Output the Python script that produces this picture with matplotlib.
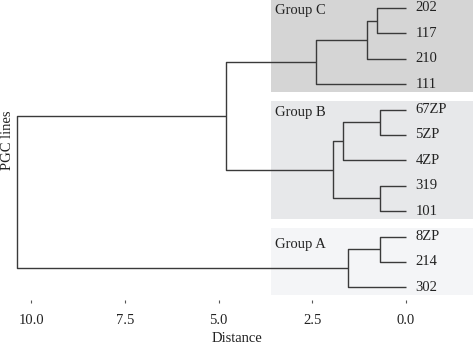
import matplotlib.pyplot as plt
from matplotlib.patches import Rectangle

plt.rcParams['font.family'] = 'serif'
plt.rcParams['font.serif'] = ['Liberation Serif', 'Times New Roman', 'DejaVu Serif']

# leaf order top to bottom
leaves = ['202', '117', '210', '111', '67ZP', '5ZP', '4ZP', '319', '101', '8ZP', '214', '302']

# merges: (left node, right node, distance); new nodes numbered from len(leaves)
merges = [
    (0, 1, 0.77),     # 12: 202 + 117
    (12, 2, 1.05),    # 13: + 210
    (13, 3, 2.40),    # 14: + 111  (group C)
    (4, 5, 0.69),     # 15: 67ZP + 5ZP
    (15, 6, 1.68),    # 16: + 4ZP
    (7, 8, 0.69),     # 17: 319 + 101
    (16, 17, 1.95),   # 18: group B
    (14, 18, 4.80),   # 19: C + B
    (9, 10, 0.69),    # 20: 8ZP + 214
    (20, 11, 1.55),   # 21: + 302  (group A)
    (19, 21, 10.37),  # 22: root
]

groups = ['Group C', 'Group B', 'Group A']
group_spans = [(0, 3), (4, 8), (9, 11)]
group_label_y = [0.08, 4.12, 9.3]
group_colors = ['#d5d5d5', '#e7e8ea', '#f4f5f7']

fig = plt.figure(figsize=(4.74, 3.48), dpi=100)
ax = fig.add_axes([0, (348 - 300) / 348, 1, 300 / 348])
ax.set_xlim(10.83, -1.81)
ax.set_ylim(11.5, -0.315)

line_kw = dict(color='#3a3a3a', lw=1.0, solid_capstyle='butt')
fs = 10.5

# group background boxes
for name, (a, b), ly, c in zip(groups, group_spans, group_label_y, group_colors):
    ax.add_patch(Rectangle((3.6, a - 0.35), -3.6 - 1.78, (b + 0.31) - (a - 0.35),
                           facecolor=c, edgecolor='none', zorder=0))
    ax.text(3.5, ly, name, fontsize=fs, va='center', ha='left', color='#222222')

# node positions: (height, y)
pos = {i: (0.0, float(i)) for i in range(len(leaves))}
for k, (l, r, d) in enumerate(merges):
    hl, yl = pos[l]
    hr, yr = pos[r]
    ax.plot([hl, d, d, hr], [yl, yl, yr, yr], **line_kw)
    pos[len(leaves) + k] = (d, (yl + yr) / 2)

for i, name in enumerate(leaves):
    ax.text(-0.25, i, name, fontsize=fs, va='center', ha='left', color='#222222')

for s in ax.spines.values():
    s.set_visible(False)
ax.set_yticks([])
ax.set_xticks([10.0, 7.5, 5.0, 2.5, 0.0])
ax.set_xticklabels(['10.0', '7.5', '5.0', '2.5', '0.0'], fontsize=fs, color='#222222')
ax.tick_params(axis='x', length=2, width=0.8, color='#555555', pad=8)
ax.set_xlabel('Distance', fontsize=fs, color='#222222', labelpad=4)
fig.text(8 / 474, 1 - 140 / 348, 'PGC lines', rotation=90, fontsize=fs,
         va='center', ha='center', color='#222222')

fig.savefig('out.png', dpi=100)
